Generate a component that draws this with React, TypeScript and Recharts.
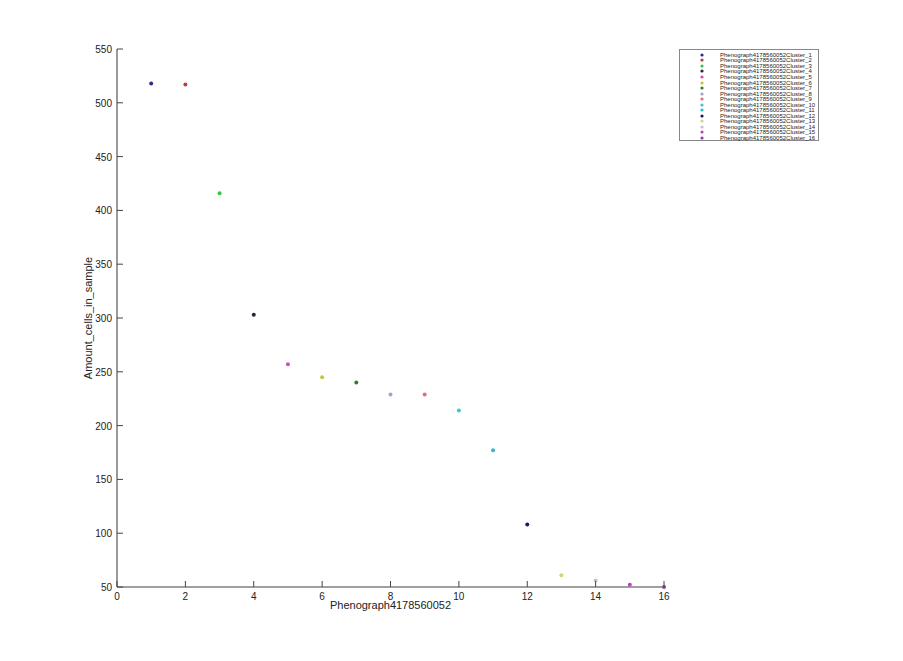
import React from "react";
import { ScatterChart, Scatter, XAxis, YAxis, Legend, Label } from "recharts";

const clusterNames = Array.from({ length: 16 }, (_, i) => `Phenograph4178560052Cluster_${i + 1}`);
const clusterIds = [1, 2, 3, 4, 5, 6, 7, 8, 9, 10, 11, 12, 13, 14, 15, 16];
const cellCounts = [518, 517, 416, 303, 257, 245, 240, 229, 229, 214, 177, 108, 61, 56, 52, 50];
const clusterColors = [
  "#2b2b8c", "#c0393b", "#3dbf4a", "#1c2a40", "#d04fb0", "#c8c43a", "#2f7a36", "#a3a3c8",
  "#d9707a", "#3cc6d6", "#33b8c8", "#1a1a5e", "#d8d27a", "#c4c4cc", "#c83cc8", "#7a4a9a",
];
const xTicks = [0, 2, 4, 6, 8, 10, 12, 14, 16];
const yTicks = [50, 100, 150, 200, 250, 300, 350, 400, 450, 500, 550];

const FONT = "'Liberation Sans', Arial, Helvetica, sans-serif";
const AXIS_GRAY = "#808080";

const YTick = (props: any) => {
  const { x, y, payload } = props;
  return (
    <g>
      <line x1={x} x2={x + 6} y1={y} y2={y} stroke="#444" strokeWidth={1} />
      <text x={x - 5} y={y + 4} textAnchor="end" fontSize={10} fill="#222" fontFamily={FONT}>
        {payload.value}
      </text>
    </g>
  );
};

const XTick = (props: any) => {
  const { x, y, payload } = props;
  return (
    <g>
      <line x1={x} x2={x} y1={y} y2={y - 6} stroke="#444" strokeWidth={1} />
      <text x={x} y={y + 13} textAnchor="middle" fontSize={10} fill="#222" fontFamily={FONT}>
        {payload.value}
      </text>
    </g>
  );
};

const Dot = (props: any) => {
  const { cx, cy, fill } = props;
  return <circle cx={cx} cy={cy} r={2} fill={fill} />;
};

const LegendBox = () => (
  <div
    style={{
      width: 140,
      height: 92,
      border: "1px solid #888",
      boxSizing: "border-box",
      background: "#fff",
      paddingTop: 2,
      fontFamily: FONT,
    }}
  >
    {clusterNames.map((name, i) => (
      <div key={name} style={{ height: 5.55, display: "flex", alignItems: "center", whiteSpace: "nowrap" }}>
        <svg width={40} height={6} style={{ flex: "none" }}>
          <circle cx={22} cy={3} r={1.6} fill={clusterColors[i]} />
        </svg>
        <span style={{ fontSize: 6, lineHeight: "6px", color: "#222" }}>{name}</span>
      </div>
    ))}
  </div>
);

export default function App() {
  return (
    <div style={{ width: 903, height: 661, background: "#fff", position: "relative" }}>
      <style>{`body{margin:0;background:#fff}`}</style>
      <ScatterChart width={903} height={661} margin={{ top: 49, right: 239, bottom: 44, left: 77 }}>
        <XAxis
          type="number"
          dataKey="x"
          domain={[0, 16]}
          ticks={xTicks}
          height={30}
          tickSize={0}
          tickMargin={0}
          tickLine={false}
          tick={<XTick />}
          axisLine={{ stroke: AXIS_GRAY, strokeWidth: 1.6 }}
        >
          <Label
            content={(p: any) => {
              const vb = p.viewBox;
              return (
                <text x={vb.x + vb.width / 2} y={609} textAnchor="middle" fontSize={11} fill="#222" fontFamily={FONT}>
                  Phenograph4178560052
                </text>
              );
            }}
          />
        </XAxis>
        <YAxis
          type="number"
          dataKey="y"
          domain={[50, 550]}
          ticks={yTicks}
          width={40}
          tickSize={0}
          tickMargin={0}
          tickLine={false}
          tick={<YTick />}
          axisLine={{ stroke: AXIS_GRAY, strokeWidth: 1.6 }}
        >
          <Label
            content={(p: any) => {
              const vb = p.viewBox;
              const cy = vb.y + vb.height / 2;
              return (
                <text
                  x={92}
                  y={cy}
                  transform={`rotate(-90, 92, ${cy})`}
                  textAnchor="middle"
                  fontSize={11}
                  fill="#222"
                  fontFamily={FONT}
                >
                  Amount_cells_in_sample
                </text>
              );
            }}
          />
        </YAxis>
        <Legend
          layout="vertical"
          align="center"
          verticalAlign="middle"
          content={() => <LegendBox />}
          wrapperStyle={{ top: 49, left: 679, width: 140, height: 92 }}
        />
        {clusterIds.map((id, i) => (
          <Scatter
            key={id}
            name={clusterNames[i]}
            data={[{ x: id, y: cellCounts[i] }]}
            fill={clusterColors[i]}
            shape={<Dot />}
            isAnimationActive={false}
          />
        ))}
      </ScatterChart>
    </div>
  );
}
